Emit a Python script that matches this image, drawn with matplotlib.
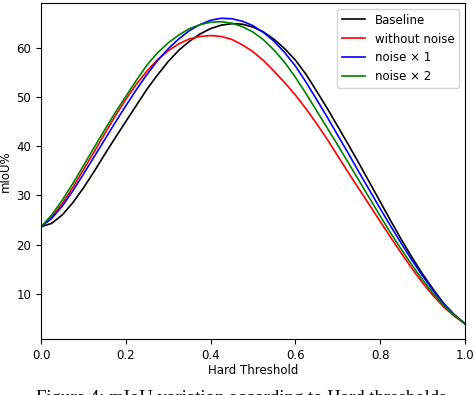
import matplotlib
matplotlib.use("Agg")
import matplotlib.pyplot as plt

# threshold values (x axis), 0.025 steps
thresholds = [0.000, 0.025, 0.050, 0.075, 0.100, 0.125, 0.150, 0.175, 0.200, 0.225,
              0.250, 0.275, 0.300, 0.325, 0.350, 0.375, 0.400, 0.425, 0.450, 0.475,
              0.500, 0.525, 0.550, 0.575, 0.600, 0.625, 0.650, 0.675, 0.700, 0.725,
              0.750, 0.775, 0.800, 0.825, 0.850, 0.875, 0.900, 0.925, 0.950, 0.975,
              1.000]

# mIoU values
baseline = [23.6, 24.3, 26.0, 28.5, 31.5, 34.8, 38.3, 41.7, 45.0, 48.3,
            51.6, 54.5, 57.2, 59.5, 61.3, 62.8, 63.9, 64.6, 64.9, 64.8,
            64.2, 63.2, 61.7, 59.8, 57.5, 54.6, 51.2, 47.7, 44.0, 40.3,
            36.5, 32.6, 28.7, 24.8, 21.0, 17.4, 14.0, 10.9, 8.0, 5.7,
            3.9]
without_noise = [23.6, 25.6, 28.3, 31.6, 35.2, 38.8, 42.5, 46.1, 49.5, 52.6,
                 55.3, 57.6, 59.4, 60.8, 61.8, 62.3, 62.5, 62.3, 61.7, 60.6,
                 59.2, 57.4, 55.2, 52.9, 50.4, 47.6, 44.6, 41.4, 38.0, 34.6,
                 31.3, 28.0, 24.7, 21.4, 18.2, 15.1, 12.2, 9.6, 7.3, 5.4,
                 3.9]
noise_x1 = [23.6, 25.3, 27.8, 30.9, 34.3, 37.8, 41.3, 44.8, 48.2, 51.5,
            54.6, 57.4, 59.8, 61.8, 63.5, 64.7, 65.6, 66.0, 65.9, 65.4,
            64.5, 63.1, 61.3, 59.0, 56.3, 53.0, 49.5, 45.9, 42.2, 38.5,
            34.7, 31.0, 27.3, 23.7, 20.2, 16.8, 13.6, 10.6, 7.9, 5.7,
            3.9]
noise_x2 = [23.6, 26.0, 29.0, 32.4, 36.0, 39.7, 43.3, 46.8, 50.1, 53.4,
            56.5, 59.0, 61.0, 62.6, 63.9, 64.7, 65.2, 65.3, 65.0, 64.3,
            63.2, 61.6, 59.5, 57.0, 54.0, 50.7, 47.2, 43.7, 40.2, 36.6,
            33.0, 29.4, 25.8, 22.3, 19.0, 15.8, 12.8, 10.0, 7.6, 5.6,
            3.9]

plt.rcParams["font.size"] = 8.5

fig = plt.figure(figsize=(4.74, 3.95), dpi=100)
ax = fig.add_axes([0.0865, 0.1418, 0.981 - 0.0865, 0.9924 - 0.1418])

ax.plot(thresholds, baseline, color="black", lw=1.2, label="Baseline")
ax.plot(thresholds, without_noise, color="red", lw=1.2, label="without noise")
ax.plot(thresholds, noise_x1, color="blue", lw=1.2, label="noise × 1")
ax.plot(thresholds, noise_x2, color="green", lw=1.2, label="noise × 2")

ax.set_xlim(0, 1)
ax.set_yticks([10, 20, 30, 40, 50, 60])
ax.set_xlabel("Hard Threshold", labelpad=2)
ax.set_ylabel("mIoU%", labelpad=3)
ax.legend(loc="upper right", fontsize=8.5)

# caption of the paper figure, cut off at the bottom edge like the reference
fig.text(0.508, -0.019, "Figure 4: mIoU variation according to Hard thresholds",
         family="Liberation Serif", fontsize=13.5, ha="center", va="baseline")

fig.savefig("out.png", dpi=100)
